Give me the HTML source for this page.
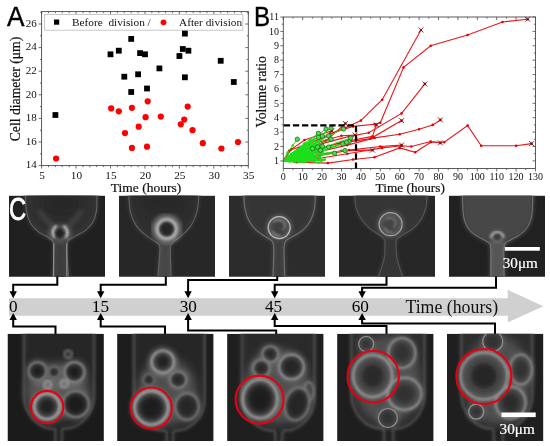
<!DOCTYPE html>
<html><head><meta charset="utf-8"><title>Figure</title>
<style>html,body{margin:0;padding:0;background:#fff}svg{display:block}text{font-family:"Liberation Serif", serif}.sans{font-family:"Liberation Sans", sans-serif}</style>
</head><body>
<svg width="550" height="446" viewBox="0 0 550 446">
<defs>
<filter id="b05" x="-20%" y="-20%" width="140%" height="140%"><feGaussianBlur stdDeviation="0.5"/></filter>
<filter id="b08" x="-20%" y="-20%" width="140%" height="140%"><feGaussianBlur stdDeviation="0.8"/></filter>
<filter id="b1" x="-20%" y="-20%" width="140%" height="140%"><feGaussianBlur stdDeviation="1"/></filter>
<filter id="b2" x="-30%" y="-30%" width="160%" height="160%"><feGaussianBlur stdDeviation="2"/></filter>
<filter id="b4" x="-40%" y="-40%" width="180%" height="180%"><feGaussianBlur stdDeviation="4"/></filter>
<filter id="b7" x="-50%" y="-50%" width="200%" height="200%"><feGaussianBlur stdDeviation="7"/></filter>
<filter id="soft" x="-5%" y="-5%" width="110%" height="110%"><feGaussianBlur stdDeviation="0.35"/></filter>
</defs>
<rect width="550" height="446" fill="#fff"/>
<g id="chartA">
<rect x="41.6" y="11.6" width="206.7" height="154.0" fill="none" stroke="#4a4a4a" stroke-width="0.9"/>
<path d="M41.60 165.60v3.0M41.60 11.60v3.0M48.49 165.60v1.6M48.49 11.60v1.6M55.38 165.60v1.6M55.38 11.60v1.6M62.27 165.60v1.6M62.27 11.60v1.6M69.16 165.60v1.6M69.16 11.60v1.6M76.05 165.60v3.0M76.05 11.60v3.0M82.94 165.60v1.6M82.94 11.60v1.6M89.83 165.60v1.6M89.83 11.60v1.6M96.72 165.60v1.6M96.72 11.60v1.6M103.61 165.60v1.6M103.61 11.60v1.6M110.50 165.60v3.0M110.50 11.60v3.0M117.39 165.60v1.6M117.39 11.60v1.6M124.28 165.60v1.6M124.28 11.60v1.6M131.17 165.60v1.6M131.17 11.60v1.6M138.06 165.60v1.6M138.06 11.60v1.6M144.95 165.60v3.0M144.95 11.60v3.0M151.84 165.60v1.6M151.84 11.60v1.6M158.73 165.60v1.6M158.73 11.60v1.6M165.62 165.60v1.6M165.62 11.60v1.6M172.51 165.60v1.6M172.51 11.60v1.6M179.40 165.60v3.0M179.40 11.60v3.0M186.29 165.60v1.6M186.29 11.60v1.6M193.18 165.60v1.6M193.18 11.60v1.6M200.07 165.60v1.6M200.07 11.60v1.6M206.96 165.60v1.6M206.96 11.60v1.6M213.85 165.60v3.0M213.85 11.60v3.0M220.74 165.60v1.6M220.74 11.60v1.6M227.63 165.60v1.6M227.63 11.60v1.6M234.52 165.60v1.6M234.52 11.60v1.6M241.41 165.60v1.6M241.41 11.60v1.6M248.30 165.60v3.0M248.30 11.60v3.0M41.60 165.60h-3.0M248.30 165.60h-3.0M41.60 153.80h-1.6M248.30 153.80h-1.6M41.60 142.00h-3.0M248.30 142.00h-3.0M41.60 130.20h-1.6M248.30 130.20h-1.6M41.60 118.40h-3.0M248.30 118.40h-3.0M41.60 106.60h-1.6M248.30 106.60h-1.6M41.60 94.80h-3.0M248.30 94.80h-3.0M41.60 83.00h-1.6M248.30 83.00h-1.6M41.60 71.20h-3.0M248.30 71.20h-3.0M41.60 59.40h-1.6M248.30 59.40h-1.6M41.60 47.60h-3.0M248.30 47.60h-3.0M41.60 35.80h-1.6M248.30 35.80h-1.6M41.60 24.00h-3.0M248.30 24.00h-3.0M41.60 12.20h-1.6M248.30 12.20h-1.6" stroke="#4a4a4a" stroke-width="0.8" fill="none"/>
<text x="42.0" y="179.2" font-size="11.3" text-anchor="middle" fill="#111">5</text>
<text x="76.5" y="179.2" font-size="11.3" text-anchor="middle" fill="#111">10</text>
<text x="110.9" y="179.2" font-size="11.3" text-anchor="middle" fill="#111">15</text>
<text x="145.4" y="179.2" font-size="11.3" text-anchor="middle" fill="#111">20</text>
<text x="179.8" y="179.2" font-size="11.3" text-anchor="middle" fill="#111">25</text>
<text x="214.2" y="179.2" font-size="11.3" text-anchor="middle" fill="#111">30</text>
<text x="248.7" y="179.2" font-size="11.3" text-anchor="middle" fill="#111">35</text>
<text x="36.8" y="168.4" font-size="11" text-anchor="end" fill="#111">14</text>
<text x="36.8" y="144.8" font-size="11" text-anchor="end" fill="#111">16</text>
<text x="36.8" y="121.2" font-size="11" text-anchor="end" fill="#111">18</text>
<text x="36.8" y="97.6" font-size="11" text-anchor="end" fill="#111">20</text>
<text x="36.8" y="74.0" font-size="11" text-anchor="end" fill="#111">22</text>
<text x="36.8" y="50.4" font-size="11" text-anchor="end" fill="#111">24</text>
<text x="36.8" y="26.8" font-size="11" text-anchor="end" fill="#111">26</text>
<text x="146" y="191.6" font-size="13.5" text-anchor="middle" fill="#111" stroke="#111" stroke-width="0.2">Time (hours)</text>
<text transform="translate(20.1,89) rotate(-90)" font-size="13.7" text-anchor="middle" fill="#111" stroke="#111" stroke-width="0.2">Cell diameter (μm)</text>
<rect x="44.6" y="14.4" width="198.2" height="15.8" fill="#fff" stroke="#bbb" stroke-width="0.8"/>
<rect x="54" y="19.5" width="5.2" height="5.2" fill="#000"/>
<text x="72" y="26.3" font-size="11.3" fill="#111" style="white-space:pre">Before  division /</text>
<circle cx="163.5" cy="22.3" r="2.9" fill="#f00"/>
<text x="179" y="26.3" font-size="11.3" fill="#111">After division</text>
<rect x="52.5" y="112.1" width="5.8" height="5.8" fill="#000"/>
<rect x="107.6" y="51.4" width="5.8" height="5.8" fill="#000"/>
<rect x="115.9" y="47.8" width="5.8" height="5.8" fill="#000"/>
<rect x="121.4" y="73.8" width="5.8" height="5.8" fill="#000"/>
<rect x="128.3" y="36.0" width="5.8" height="5.8" fill="#000"/>
<rect x="128.3" y="89.1" width="5.8" height="5.8" fill="#000"/>
<rect x="135.2" y="71.4" width="5.8" height="5.8" fill="#000"/>
<rect x="137.2" y="50.2" width="5.8" height="5.8" fill="#000"/>
<rect x="142.1" y="51.4" width="5.8" height="5.8" fill="#000"/>
<rect x="144.1" y="85.6" width="5.8" height="5.8" fill="#000"/>
<rect x="156.5" y="65.5" width="5.8" height="5.8" fill="#000"/>
<rect x="176.5" y="53.1" width="5.8" height="5.8" fill="#000"/>
<rect x="179.9" y="46.1" width="5.8" height="5.8" fill="#000"/>
<rect x="182.0" y="30.7" width="5.8" height="5.8" fill="#000"/>
<rect x="182.0" y="74.4" width="5.8" height="5.8" fill="#000"/>
<rect x="185.5" y="47.8" width="5.8" height="5.8" fill="#000"/>
<rect x="217.8" y="57.9" width="5.8" height="5.8" fill="#000"/>
<rect x="230.9" y="79.1" width="5.8" height="5.8" fill="#000"/>
<circle cx="56.1" cy="158.5" r="3.1" fill="#f00"/>
<circle cx="111.2" cy="108.4" r="3.1" fill="#f00"/>
<circle cx="118.8" cy="111.3" r="3.1" fill="#f00"/>
<circle cx="125.0" cy="133.1" r="3.1" fill="#f00"/>
<circle cx="131.9" cy="107.8" r="3.1" fill="#f00"/>
<circle cx="131.9" cy="147.9" r="3.1" fill="#f00"/>
<circle cx="138.7" cy="126.7" r="3.1" fill="#f00"/>
<circle cx="145.6" cy="117.2" r="3.1" fill="#f00"/>
<circle cx="147.7" cy="101.3" r="3.1" fill="#f00"/>
<circle cx="147.0" cy="146.7" r="3.1" fill="#f00"/>
<circle cx="160.8" cy="116.6" r="3.1" fill="#f00"/>
<circle cx="180.8" cy="124.3" r="3.1" fill="#f00"/>
<circle cx="184.2" cy="119.6" r="3.1" fill="#f00"/>
<circle cx="187.7" cy="106.6" r="3.1" fill="#f00"/>
<circle cx="192.5" cy="130.2" r="3.1" fill="#f00"/>
<circle cx="202.8" cy="143.2" r="3.1" fill="#f00"/>
<circle cx="221.4" cy="148.5" r="3.1" fill="#f00"/>
<circle cx="238.0" cy="142.0" r="3.1" fill="#f00"/>
<text class="sans" transform="translate(7.0,25.9) scale(0.95,1)" font-size="27.6" fill="#000" stroke="#000" stroke-width="0.4">A</text>
</g>
<g id="chartB">
<rect x="283.3" y="17.0" width="252.2" height="151.5" fill="none" stroke="#4a4a4a" stroke-width="0.9"/>
<path d="M283.30 168.50v3.0M283.30 17.00v3.0M293.00 168.50v1.6M293.00 17.00v1.6M302.70 168.50v3.0M302.70 17.00v3.0M312.40 168.50v1.6M312.40 17.00v1.6M322.10 168.50v3.0M322.10 17.00v3.0M331.80 168.50v1.6M331.80 17.00v1.6M341.50 168.50v3.0M341.50 17.00v3.0M351.20 168.50v1.6M351.20 17.00v1.6M360.90 168.50v3.0M360.90 17.00v3.0M370.60 168.50v1.6M370.60 17.00v1.6M380.30 168.50v3.0M380.30 17.00v3.0M390.00 168.50v1.6M390.00 17.00v1.6M399.70 168.50v3.0M399.70 17.00v3.0M409.40 168.50v1.6M409.40 17.00v1.6M419.10 168.50v3.0M419.10 17.00v3.0M428.80 168.50v1.6M428.80 17.00v1.6M438.50 168.50v3.0M438.50 17.00v3.0M448.20 168.50v1.6M448.20 17.00v1.6M457.90 168.50v3.0M457.90 17.00v3.0M467.60 168.50v1.6M467.60 17.00v1.6M477.30 168.50v3.0M477.30 17.00v3.0M487.00 168.50v1.6M487.00 17.00v1.6M496.70 168.50v3.0M496.70 17.00v3.0M506.40 168.50v1.6M506.40 17.00v1.6M516.10 168.50v3.0M516.10 17.00v3.0M525.80 168.50v1.6M525.80 17.00v1.6M535.50 168.50v3.0M535.50 17.00v3.0M283.30 160.90h-3.0M535.50 160.90h-3.0M283.30 153.71h-1.6M535.50 153.71h-1.6M283.30 146.51h-3.0M535.50 146.51h-3.0M283.30 139.31h-1.6M535.50 139.31h-1.6M283.30 132.12h-3.0M535.50 132.12h-3.0M283.30 124.93h-1.6M535.50 124.93h-1.6M283.30 117.73h-3.0M535.50 117.73h-3.0M283.30 110.53h-1.6M535.50 110.53h-1.6M283.30 103.34h-3.0M535.50 103.34h-3.0M283.30 96.14h-1.6M535.50 96.14h-1.6M283.30 88.95h-3.0M535.50 88.95h-3.0M283.30 81.75h-1.6M535.50 81.75h-1.6M283.30 74.56h-3.0M535.50 74.56h-3.0M283.30 67.37h-1.6M535.50 67.37h-1.6M283.30 60.17h-3.0M535.50 60.17h-3.0M283.30 52.98h-1.6M535.50 52.98h-1.6M283.30 45.78h-3.0M535.50 45.78h-3.0M283.30 38.58h-1.6M535.50 38.58h-1.6M283.30 31.39h-3.0M535.50 31.39h-3.0M283.30 24.20h-1.6M535.50 24.20h-1.6M283.30 17.00h-3.0M535.50 17.00h-3.0" stroke="#4a4a4a" stroke-width="0.8" fill="none"/>
<text x="283.3" y="180.3" font-size="10" text-anchor="middle" fill="#111">0</text>
<text x="302.7" y="180.3" font-size="10" text-anchor="middle" fill="#111">10</text>
<text x="322.1" y="180.3" font-size="10" text-anchor="middle" fill="#111">20</text>
<text x="341.5" y="180.3" font-size="10" text-anchor="middle" fill="#111">30</text>
<text x="360.9" y="180.3" font-size="10" text-anchor="middle" fill="#111">40</text>
<text x="380.3" y="180.3" font-size="10" text-anchor="middle" fill="#111">50</text>
<text x="399.7" y="180.3" font-size="10" text-anchor="middle" fill="#111">60</text>
<text x="419.1" y="180.3" font-size="10" text-anchor="middle" fill="#111">70</text>
<text x="438.5" y="180.3" font-size="10" text-anchor="middle" fill="#111">80</text>
<text x="457.9" y="180.3" font-size="10" text-anchor="middle" fill="#111">90</text>
<text x="477.3" y="180.3" font-size="10" text-anchor="middle" fill="#111">100</text>
<text x="496.7" y="180.3" font-size="10" text-anchor="middle" fill="#111">110</text>
<text x="516.1" y="180.3" font-size="10" text-anchor="middle" fill="#111">120</text>
<text x="535.5" y="180.3" font-size="10" text-anchor="middle" fill="#111">130</text>
<text x="279" y="164.1" font-size="10" text-anchor="end" fill="#111">1</text>
<text x="279" y="149.7" font-size="10" text-anchor="end" fill="#111">2</text>
<text x="279" y="135.3" font-size="10" text-anchor="end" fill="#111">3</text>
<text x="279" y="120.9" font-size="10" text-anchor="end" fill="#111">4</text>
<text x="279" y="106.5" font-size="10" text-anchor="end" fill="#111">5</text>
<text x="279" y="92.2" font-size="10" text-anchor="end" fill="#111">6</text>
<text x="279" y="77.8" font-size="10" text-anchor="end" fill="#111">7</text>
<text x="279" y="63.4" font-size="10" text-anchor="end" fill="#111">8</text>
<text x="279" y="49.0" font-size="10" text-anchor="end" fill="#111">9</text>
<text x="279" y="34.6" font-size="10" text-anchor="end" fill="#111">10</text>
<text x="279" y="20.2" font-size="10" text-anchor="end" fill="#111">11</text>
<text x="410.2" y="191.5" font-size="13.3" text-anchor="middle" fill="#111" stroke="#111" stroke-width="0.2">Time (hours)</text>
<text transform="translate(266.4,91.8) rotate(-90)" font-size="13.8" text-anchor="middle" fill="#111" stroke="#111" stroke-width="0.2">Volume ratio</text>
<polyline points="283.3,160.9 298.8,147.9 322.1,137.9 345.4,127.8 360.9,120.6 382.2,99.7 421.0,30.0" fill="none" stroke="#e8181a" stroke-width="1.1"/>
<polyline points="283.3,160.9 302.7,150.8 329.9,133.6 353.1,126.4 374.5,124.2 380.3,122.8 403.6,67.4 430.7,45.8 467.6,35.0 502.5,22.0 527.7,19.2" fill="none" stroke="#e8181a" stroke-width="1.1"/>
<polyline points="283.3,160.9 294.9,153.7 322.1,143.6 349.3,136.4 368.7,132.8 401.6,113.4 424.9,83.9" fill="none" stroke="#e8181a" stroke-width="1.1"/>
<polyline points="283.3,160.9 293.0,156.6 326.0,140.8 345.4,123.5" fill="none" stroke="#e8181a" stroke-width="1.1"/>
<polyline points="283.3,160.9 306.6,152.3 341.5,142.2 372.5,136.4 376.4,124.9" fill="none" stroke="#e8181a" stroke-width="1.1"/>
<polyline points="283.3,160.9 300.8,155.1 337.6,143.6 370.6,138.6 401.6,120.6" fill="none" stroke="#e8181a" stroke-width="1.1"/>
<polyline points="283.3,160.9 310.5,153.7 347.3,145.1 374.5,137.9 399.7,134.3 419.1,129.2 432.7,124.9 440.4,119.9" fill="none" stroke="#e8181a" stroke-width="1.1"/>
<polyline points="283.3,160.9 302.7,157.3 341.5,150.8 372.5,150.1" fill="none" stroke="#e8181a" stroke-width="1.1"/>
<polyline points="283.3,160.9 306.6,158.0 349.3,150.1 380.3,146.5 401.6,145.1" fill="none" stroke="#e8181a" stroke-width="1.1"/>
<polyline points="283.3,160.9 312.4,159.5 347.3,153.7 382.2,147.9 401.6,145.8 411.3,146.5 430.7,141.5 440.4,142.9" fill="none" stroke="#e8181a" stroke-width="1.1"/>
<polyline points="283.3,160.9 296.9,162.3 327.9,163.1 353.1,159.5 374.5,157.3 399.7,147.9 415.2,152.3 430.7,142.2 444.3,142.2 467.6,125.6 481.2,145.8 516.1,145.8 531.6,143.6" fill="none" stroke="#e8181a" stroke-width="1.1"/>
<polyline points="283.3,160.9 289.1,150.8 304.6,140.0 331.8,130.7" fill="none" stroke="#e8181a" stroke-width="1.1"/>
<polyline points="283.3,160.9 291.1,149.4 318.2,142.2 341.5,135.7 355.1,135.0" fill="none" stroke="#e8181a" stroke-width="1.1"/>
<path d="M298.8 147.9h0M322.1 137.9h0M345.4 127.8h0M360.9 120.6h0M382.2 99.7h0M421.0 30.0h0M302.7 150.8h0M329.9 133.6h0M353.1 126.4h0M374.5 124.2h0M380.3 122.8h0M403.6 67.4h0M430.7 45.8h0M467.6 35.0h0M502.5 22.0h0M527.7 19.2h0M294.9 153.7h0M322.1 143.6h0M349.3 136.4h0M368.7 132.8h0M401.6 113.4h0M424.9 83.9h0M293.0 156.6h0M326.0 140.8h0M345.4 123.5h0M306.6 152.3h0M341.5 142.2h0M372.5 136.4h0M376.4 124.9h0M300.8 155.1h0M337.6 143.6h0M370.6 138.6h0M401.6 120.6h0M310.5 153.7h0M347.3 145.1h0M374.5 137.9h0M399.7 134.3h0M419.1 129.2h0M432.7 124.9h0M440.4 119.9h0M302.7 157.3h0M341.5 150.8h0M372.5 150.1h0M306.6 158.0h0M349.3 150.1h0M380.3 146.5h0M401.6 145.1h0M312.4 159.5h0M347.3 153.7h0M382.2 147.9h0M401.6 145.8h0M411.3 146.5h0M430.7 141.5h0M440.4 142.9h0M296.9 162.3h0M327.9 163.1h0M353.1 159.5h0M374.5 157.3h0M399.7 147.9h0M415.2 152.3h0M430.7 142.2h0M444.3 142.2h0M467.6 125.6h0M481.2 145.8h0M516.1 145.8h0M531.6 143.6h0M289.1 150.8h0M304.6 140.0h0M331.8 130.7h0M291.1 149.4h0M318.2 142.2h0M341.5 135.7h0M355.1 135.0h0" stroke="#e60000" stroke-width="2.6" stroke-linecap="round" fill="none"/>
<path d="M418.5 27.5l5 5m0 -5l-5 5M525.2 16.7l5 5m0 -5l-5 5M422.4 81.4l5 5m0 -5l-5 5M342.9 121.0l5 5m0 -5l-5 5M373.9 122.4l5 5m0 -5l-5 5M399.1 118.1l5 5m0 -5l-5 5M437.9 117.4l5 5m0 -5l-5 5M370.0 147.6l5 5m0 -5l-5 5M399.1 142.6l5 5m0 -5l-5 5M437.9 140.4l5 5m0 -5l-5 5M529.1 141.1l5 5m0 -5l-5 5M329.3 128.2l5 5m0 -5l-5 5M352.6 132.5l5 5m0 -5l-5 5" stroke="#5a1010" stroke-width="0.8" fill="none"/>
<path d="M284.1 160.6L287.5 152.6L292.7 145.5L297.3 139.2M284.1 160.6L294.5 151.8L304.0 143.7L318.4 133.3M284.1 160.6L293.0 153.3L304.1 144.4L318.4 137.3M284.1 160.6L295.4 154.7L306.7 144.2L322.4 136.1M284.1 160.6L297.1 153.1L310.3 140.6L326.0 129.0M284.1 160.6L299.6 148.9L314.3 139.6L331.0 128.2M284.1 160.6L296.4 151.5L311.1 146.6L328.6 135.8M284.1 160.6L297.2 154.5L313.6 146.8L331.0 139.2M284.1 160.6L302.1 149.2L319.6 139.7L343.5 129.0M284.1 160.6L304.6 153.5L324.8 147.0L350.6 138.0M284.1 160.6L303.4 154.0L325.2 149.7L349.0 141.6M284.1 160.6L302.1 155.5L323.0 151.0L346.7 142.4M284.1 160.6L302.4 154.7L321.9 148.6L342.7 143.9M284.1 160.6L297.2 157.7L310.6 152.2L328.6 147.1M284.1 160.6L294.2 157.1L308.6 152.1L322.4 146.3M284.1 160.6L295.3 155.7L305.5 152.6L317.6 147.1M284.1 160.6L292.9 156.8L302.8 155.1L312.6 148.6M284.1 160.6L294.9 158.2L305.4 155.0L320.5 150.2M284.1 160.6L302.8 159.7L322.9 153.4L345.1 150.5M284.1 160.6L298.9 159.2L314.0 155.9L334.6 153.3M284.1 160.6L289.0 161.1L296.2 158.7M284.1 160.6L299.8 156.4L320.9 153.0M284.1 160.6L298.0 151.5L315.8 142.4M284.1 160.6L288.5 155.8L294.7 152.1M284.1 160.6L290.5 157.3L300.2 154.2M284.1 160.6L295.6 152.4L309.8 139.9M284.1 160.6L297.7 152.7L312.4 140.4M284.1 160.6L296.7 158.6L313.4 158.4M284.1 160.6L287.8 158.4L293.8 157.9M284.1 160.6L301.4 159.7L321.4 160.9M284.1 160.6L290.5 161.1L296.8 157.7M284.1 160.6L289.4 159.6L297.1 159.1M284.1 160.6L302.3 159.8L324.6 159.8M284.1 160.6L302.3 155.1L322.5 146.3M284.1 160.6L299.6 160.4L318.1 156.8M284.1 160.6L300.8 152.0L320.2 140.0M284.1 160.6L295.5 157.5L309.0 156.6M284.1 160.6L299.2 158.3L316.5 157.7M284.1 160.6L291.1 153.9L300.3 146.8M284.1 160.6L300.8 153.6L319.9 146.3M284.1 160.6L298.8 161.3L315.4 159.9M284.1 160.6L299.5 160.3L319.9 157.1M284.1 160.6L302.1 154.9L322.4 149.4M284.1 160.6L296.5 152.6L314.2 140.7M284.1 160.6L295.3 156.3L311.5 155.4M284.1 160.6L300.9 156.0L322.3 146.3M284.1 160.6L291.9 159.7L302.1 157.7M284.1 160.6L301.3 159.5L323.2 159.9M284.1 160.6L301.2 156.1L322.1 148.7M284.1 160.6L289.6 159.8L297.9 156.4M284.1 160.6L294.7 155.0L308.5 148.9M284.1 160.6L296.0 159.3L312.1 159.6M284.1 160.6L299.3 154.9L316.2 148.5M284.1 160.6L297.6 156.1L314.2 151.9M284.1 160.6L300.3 152.1L318.1 145.2M284.1 160.6L288.5 157.1L294.7 152.4M284.1 160.6L298.7 161.9L314.5 161.0M284.1 160.6L290.5 159.7L296.0 156.4M284.1 160.6L296.0 159.0L307.7 154.2M284.1 160.6L292.1 157.0L303.6 152.3M284.1 160.6L293.1 156.3L306.4 152.4M284.1 160.6L303.4 162.2L324.8 159.5M284.1 160.6L299.3 159.4L318.6 162.5M284.1 160.6L290.1 158.0L299.2 152.2M284.1 160.6L289.4 160.2L294.1 161.9M284.1 160.6L297.9 155.4L315.7 147.6M284.1 160.6L292.9 159.6L303.0 153.6M284.1 160.6L290.5 156.9L299.1 153.9M284.1 160.6L293.1 158.3L302.8 155.9M284.1 160.6L287.8 158.0L294.0 158.8M284.1 160.6L296.0 158.1L309.3 158.0M284.1 160.6L299.5 155.5L319.2 151.0M284.1 160.6L300.6 157.7L319.6 152.6M284.1 160.6L289.2 161.5L296.9 159.4M284.1 160.6L301.4 160.9L320.4 158.9M284.1 160.6L294.1 158.6L307.4 158.2M284.1 160.6L293.2 154.8L305.1 143.5M284.1 160.6L293.8 161.0L305.1 161.5M284.1 160.6L291.2 160.5L300.9 159.5M284.1 160.6L291.7 159.4L301.0 158.2M284.1 160.6L299.1 152.1L318.9 141.9M284.1 160.6L295.2 155.5L311.7 147.1M284.1 160.6L297.6 153.1L315.7 145.0M284.1 160.6L298.3 153.6L315.6 142.7" stroke="#19e019" stroke-width="1.0" fill="none" stroke-linejoin="round"/>
<path d="M287.5 152.6h0M292.7 145.5h0M294.5 151.8h0M304.0 143.7h0M293.0 153.3h0M304.1 144.4h0M295.4 154.7h0M306.7 144.2h0M297.1 153.1h0M310.3 140.6h0M299.6 148.9h0M314.3 139.6h0M296.4 151.5h0M311.1 146.6h0M297.2 154.5h0M313.6 146.8h0M302.1 149.2h0M319.6 139.7h0M304.6 153.5h0M324.8 147.0h0M303.4 154.0h0M325.2 149.7h0M302.1 155.5h0M323.0 151.0h0M302.4 154.7h0M321.9 148.6h0M297.2 157.7h0M310.6 152.2h0M294.2 157.1h0M308.6 152.1h0M295.3 155.7h0M305.5 152.6h0M292.9 156.8h0M302.8 155.1h0M294.9 158.2h0M305.4 155.0h0M302.8 159.7h0M322.9 153.4h0M298.9 159.2h0M314.0 155.9h0M289.0 161.1h0M296.2 158.7h0M299.8 156.4h0M320.9 153.0h0M298.0 151.5h0M315.8 142.4h0M288.5 155.8h0M294.7 152.1h0M290.5 157.3h0M300.2 154.2h0M295.6 152.4h0M309.8 139.9h0M297.7 152.7h0M312.4 140.4h0M296.7 158.6h0M313.4 158.4h0M287.8 158.4h0M293.8 157.9h0M301.4 159.7h0M321.4 160.9h0M290.5 161.1h0M296.8 157.7h0M289.4 159.6h0M297.1 159.1h0M302.3 159.8h0M324.6 159.8h0M302.3 155.1h0M322.5 146.3h0M299.6 160.4h0M318.1 156.8h0M300.8 152.0h0M320.2 140.0h0M295.5 157.5h0M309.0 156.6h0M299.2 158.3h0M316.5 157.7h0M291.1 153.9h0M300.3 146.8h0M300.8 153.6h0M319.9 146.3h0M298.8 161.3h0M315.4 159.9h0M299.5 160.3h0M319.9 157.1h0M302.1 154.9h0M322.4 149.4h0M296.5 152.6h0M314.2 140.7h0M295.3 156.3h0M311.5 155.4h0M300.9 156.0h0M322.3 146.3h0M291.9 159.7h0M302.1 157.7h0M301.3 159.5h0M323.2 159.9h0M301.2 156.1h0M322.1 148.7h0M289.6 159.8h0M297.9 156.4h0M294.7 155.0h0M308.5 148.9h0M296.0 159.3h0M312.1 159.6h0M299.3 154.9h0M316.2 148.5h0M297.6 156.1h0M314.2 151.9h0M300.3 152.1h0M318.1 145.2h0M288.5 157.1h0M294.7 152.4h0M298.7 161.9h0M314.5 161.0h0M290.5 159.7h0M296.0 156.4h0M296.0 159.0h0M307.7 154.2h0M292.1 157.0h0M303.6 152.3h0M293.1 156.3h0M306.4 152.4h0M303.4 162.2h0M324.8 159.5h0M299.3 159.4h0M318.6 162.5h0M290.1 158.0h0M299.2 152.2h0M289.4 160.2h0M294.1 161.9h0M297.9 155.4h0M315.7 147.6h0M292.9 159.6h0M303.0 153.6h0M290.5 156.9h0M299.1 153.9h0M293.1 158.3h0M302.8 155.9h0M287.8 158.0h0M294.0 158.8h0M296.0 158.1h0M309.3 158.0h0M299.5 155.5h0M319.2 151.0h0M300.6 157.7h0M319.6 152.6h0M289.2 161.5h0M296.9 159.4h0M301.4 160.9h0M320.4 158.9h0M294.1 158.6h0M307.4 158.2h0M293.2 154.8h0M305.1 143.5h0M293.8 161.0h0M305.1 161.5h0M291.2 160.5h0M300.9 159.5h0M291.7 159.4h0M301.0 158.2h0M299.1 152.1h0M318.9 141.9h0M295.2 155.5h0M311.7 147.1h0M297.6 153.1h0M315.7 145.0h0M298.3 153.6h0M315.6 142.7h0" stroke="#19e019" stroke-width="2.6" stroke-linecap="round" fill="none"/>
<circle cx="297.3" cy="139.2" r="2.2" fill="#4ae04a" stroke="#1f5a1f" stroke-width="0.7"/>
<circle cx="318.4" cy="133.3" r="2.2" fill="#4ae04a" stroke="#1f5a1f" stroke-width="0.7"/>
<circle cx="318.4" cy="137.3" r="2.2" fill="#4ae04a" stroke="#1f5a1f" stroke-width="0.7"/>
<circle cx="322.4" cy="136.1" r="2.2" fill="#4ae04a" stroke="#1f5a1f" stroke-width="0.7"/>
<circle cx="326.0" cy="129.0" r="2.2" fill="#4ae04a" stroke="#1f5a1f" stroke-width="0.7"/>
<circle cx="331.0" cy="128.2" r="2.2" fill="#4ae04a" stroke="#1f5a1f" stroke-width="0.7"/>
<circle cx="328.6" cy="135.8" r="2.2" fill="#4ae04a" stroke="#1f5a1f" stroke-width="0.7"/>
<circle cx="331.0" cy="139.2" r="2.2" fill="#4ae04a" stroke="#1f5a1f" stroke-width="0.7"/>
<circle cx="343.5" cy="129.0" r="2.2" fill="#4ae04a" stroke="#1f5a1f" stroke-width="0.7"/>
<circle cx="350.6" cy="138.0" r="2.2" fill="#4ae04a" stroke="#1f5a1f" stroke-width="0.7"/>
<circle cx="349.0" cy="141.6" r="2.2" fill="#4ae04a" stroke="#1f5a1f" stroke-width="0.7"/>
<circle cx="346.7" cy="142.4" r="2.2" fill="#4ae04a" stroke="#1f5a1f" stroke-width="0.7"/>
<circle cx="342.7" cy="143.9" r="2.2" fill="#4ae04a" stroke="#1f5a1f" stroke-width="0.7"/>
<circle cx="328.6" cy="147.1" r="2.2" fill="#4ae04a" stroke="#1f5a1f" stroke-width="0.7"/>
<circle cx="322.4" cy="146.3" r="2.2" fill="#4ae04a" stroke="#1f5a1f" stroke-width="0.7"/>
<circle cx="317.6" cy="147.1" r="2.2" fill="#4ae04a" stroke="#1f5a1f" stroke-width="0.7"/>
<circle cx="312.6" cy="148.6" r="2.2" fill="#4ae04a" stroke="#1f5a1f" stroke-width="0.7"/>
<circle cx="320.5" cy="150.2" r="2.2" fill="#4ae04a" stroke="#1f5a1f" stroke-width="0.7"/>
<circle cx="345.1" cy="150.5" r="2.2" fill="#4ae04a" stroke="#1f5a1f" stroke-width="0.7"/>
<circle cx="334.6" cy="153.3" r="2.2" fill="#4ae04a" stroke="#1f5a1f" stroke-width="0.7"/>
<path d="M283.8 125.4H356V168.5" fill="none" stroke="#000" stroke-width="2.2" stroke-dasharray="6.3 2.8"/>
<text class="sans" transform="translate(254.0,25.8) scale(0.9,1)" font-size="26.8" fill="#000" stroke="#000" stroke-width="0.4">B</text>
</g>
<svg x="9.0" y="195.6" width="96" height="81.2" viewBox="0 0 96 81.2" overflow="hidden">
<rect width="96" height="82" fill="#202020"/>
<clipPath id="tc1"><path d="M16.1 -8.0C16.1 -6.7 16.1 -4.0 16.4 0.0C16.6 4.0 16.7 11.4 17.6 16.0C18.5 20.6 19.6 24.3 21.6 27.7C23.6 31.1 26.7 34.0 29.6 36.3C32.5 38.6 36.3 39.9 38.8 41.5C41.2 43.1 43.3 44.0 44.3 45.8C45.3 47.5 45.0 48.6 45.0 52.0C45.0 55.4 44.7 61.3 44.6 66.0C44.5 70.7 44.3 76.3 44.2 80.0C44.1 83.7 44.0 86.7 44.0 88.0L60.0 88.0C59.9 86.7 59.7 83.7 59.4 80.0C59.1 76.3 58.7 70.7 58.4 66.0C58.1 61.3 57.6 55.5 57.7 52.0C57.8 48.5 57.6 46.9 59.0 45.0C60.4 43.1 63.1 42.4 65.8 40.8C68.5 39.2 72.5 37.7 75.4 35.5C78.3 33.3 81.2 30.9 83.2 27.7C85.2 24.4 86.5 20.6 87.3 16.0C88.1 11.4 87.8 4.0 88.0 0.0C88.2 -4.0 88.2 -6.7 88.3 -8.0Z"/></clipPath>
<path d="M16.1 -8.0C16.1 -6.7 16.1 -4.0 16.4 0.0C16.6 4.0 16.7 11.4 17.6 16.0C18.5 20.6 19.6 24.3 21.6 27.7C23.6 31.1 26.7 34.0 29.6 36.3C32.5 38.6 36.3 39.9 38.8 41.5C41.2 43.1 43.3 44.0 44.3 45.8C45.3 47.5 45.0 48.6 45.0 52.0C45.0 55.4 44.7 61.3 44.6 66.0C44.5 70.7 44.3 76.3 44.2 80.0C44.1 83.7 44.0 86.7 44.0 88.0L60.0 88.0C59.9 86.7 59.7 83.7 59.4 80.0C59.1 76.3 58.7 70.7 58.4 66.0C58.1 61.3 57.6 55.5 57.7 52.0C57.8 48.5 57.6 46.9 59.0 45.0C60.4 43.1 63.1 42.4 65.8 40.8C68.5 39.2 72.5 37.7 75.4 35.5C78.3 33.3 81.2 30.9 83.2 27.7C85.2 24.4 86.5 20.6 87.3 16.0C88.1 11.4 87.8 4.0 88.0 0.0C88.2 -4.0 88.2 -6.7 88.3 -8.0Z" fill="#323232" filter="url(#b2)"/>
<g clip-path="url(#tc1)"><ellipse cx="52" cy="8" rx="24" ry="18" fill="#222" opacity="0.6" filter="url(#b7)"/><path d="M47 33Q36 24 30 14M56 33Q67 24 73 14" stroke="#666" stroke-width="5" fill="none" opacity="0.35" filter="url(#b2)"/></g>
<g clip-path="url(#tc1)"><rect x="43" y="47" width="17" height="40" fill="#3c3c3c" filter="url(#b1)"/></g>
<path d="M16.1 -8.0C16.1 -6.7 16.1 -4.0 16.4 0.0C16.6 4.0 16.7 11.4 17.6 16.0C18.5 20.6 19.6 24.3 21.6 27.7C23.6 31.1 26.7 34.0 29.6 36.3C32.5 38.6 36.3 39.9 38.8 41.5C41.2 43.1 43.3 44.0 44.3 45.8C45.3 47.5 45.0 48.6 45.0 52.0C45.0 55.4 44.7 61.3 44.6 66.0C44.5 70.7 44.3 76.3 44.2 80.0C44.1 83.7 44.0 86.7 44.0 88.0" fill="none" stroke="#707070" stroke-width="4" opacity="0.20" filter="url(#b2)"/>
<path d="M16.1 -8.0C16.1 -6.7 16.1 -4.0 16.4 0.0C16.6 4.0 16.7 11.4 17.6 16.0C18.5 20.6 19.6 24.3 21.6 27.7C23.6 31.1 26.7 34.0 29.6 36.3C32.5 38.6 36.3 39.9 38.8 41.5C41.2 43.1 43.3 44.0 44.3 45.8C45.3 47.5 45.0 48.6 45.0 52.0C45.0 55.4 44.7 61.3 44.6 66.0C44.5 70.7 44.3 76.3 44.2 80.0C44.1 83.7 44.0 86.7 44.0 88.0" fill="none" stroke="#707070" stroke-width="1.1" opacity="0.80" filter="url(#b05)"/>
<path d="M88.3 -8.0C88.2 -6.7 88.2 -4.0 88.0 0.0C87.8 4.0 88.1 11.4 87.3 16.0C86.5 20.6 85.2 24.4 83.2 27.7C81.2 30.9 78.3 33.3 75.4 35.5C72.5 37.7 68.5 39.2 65.8 40.8C63.1 42.4 60.4 43.1 59.0 45.0C57.6 46.9 57.8 48.5 57.7 52.0C57.6 55.5 58.1 61.3 58.4 66.0C58.7 70.7 59.1 76.3 59.4 80.0C59.7 83.7 59.9 86.7 60.0 88.0" fill="none" stroke="#707070" stroke-width="4" opacity="0.20" filter="url(#b2)"/>
<path d="M88.3 -8.0C88.2 -6.7 88.2 -4.0 88.0 0.0C87.8 4.0 88.1 11.4 87.3 16.0C86.5 20.6 85.2 24.4 83.2 27.7C81.2 30.9 78.3 33.3 75.4 35.5C72.5 37.7 68.5 39.2 65.8 40.8C63.1 42.4 60.4 43.1 59.0 45.0C57.6 46.9 57.8 48.5 57.7 52.0C57.6 55.5 58.1 61.3 58.4 66.0C58.7 70.7 59.1 76.3 59.4 80.0C59.7 83.7 59.9 86.7 60.0 88.0" fill="none" stroke="#707070" stroke-width="1.1" opacity="0.80" filter="url(#b05)"/>
<ellipse cx="51" cy="38" rx="12" ry="9" fill="#808080" opacity="0.5" filter="url(#b2)"/><path d="M44.6 48V82M57.8 48V82" stroke="#a0a0a0" stroke-width="1.2" opacity="0.75" filter="url(#b05)"/><path d="M47.5 30q-6 4.5 -2 12M54.5 30q6 4.5 2.5 12" fill="none" stroke="#c8c8c8" stroke-width="2.2" filter="url(#b08)"/><path d="M50.8 32.5Q53 34 55.3 37.5Q54 41.5 50.6 42.3Q47 41.5 46.6 38Q48 34.5 50.8 32.5Z" fill="#202020" stroke="#202020" stroke-width="1" stroke-linejoin="round" filter="url(#b08)"/>
</svg>
<svg x="119.0" y="195.6" width="96" height="81.2" viewBox="0 0 96 81.2" overflow="hidden">
<rect width="96" height="82" fill="#272727"/>
<clipPath id="tc2"><path d="M9.6 -8.0C9.7 -6.7 9.6 -4.0 9.9 0.0C10.2 4.0 10.3 11.2 11.4 16.0C12.5 20.8 14.1 25.0 16.4 28.8C18.7 32.6 22.3 35.9 25.4 38.6C28.5 41.4 32.7 43.5 35.2 45.3C37.7 47.1 39.3 48.0 40.2 49.6C41.1 51.2 40.8 52.5 40.8 55.2C40.8 57.9 40.3 61.9 40.0 66.0C39.7 70.1 39.3 76.3 39.0 80.0C38.7 83.7 38.5 86.7 38.4 88.0L52.1 88.0C52.1 86.7 52.1 83.0 52.0 80.0C51.9 77.0 51.9 73.3 51.8 70.0C51.7 66.7 51.5 63.1 51.5 60.0C51.5 56.9 51.2 53.8 51.6 51.6C52.0 49.4 51.9 48.8 53.8 46.8C55.7 44.8 59.7 42.7 62.8 39.8C65.9 36.9 69.7 33.6 72.2 29.6C74.7 25.6 76.7 20.9 78.0 16.0C79.3 11.1 79.5 4.0 79.8 0.0C80.1 -4.0 80.0 -6.7 80.1 -8.0Z"/></clipPath>
<path d="M9.6 -8.0C9.7 -6.7 9.6 -4.0 9.9 0.0C10.2 4.0 10.3 11.2 11.4 16.0C12.5 20.8 14.1 25.0 16.4 28.8C18.7 32.6 22.3 35.9 25.4 38.6C28.5 41.4 32.7 43.5 35.2 45.3C37.7 47.1 39.3 48.0 40.2 49.6C41.1 51.2 40.8 52.5 40.8 55.2C40.8 57.9 40.3 61.9 40.0 66.0C39.7 70.1 39.3 76.3 39.0 80.0C38.7 83.7 38.5 86.7 38.4 88.0L52.1 88.0C52.1 86.7 52.1 83.0 52.0 80.0C51.9 77.0 51.9 73.3 51.8 70.0C51.7 66.7 51.5 63.1 51.5 60.0C51.5 56.9 51.2 53.8 51.6 51.6C52.0 49.4 51.9 48.8 53.8 46.8C55.7 44.8 59.7 42.7 62.8 39.8C65.9 36.9 69.7 33.6 72.2 29.6C74.7 25.6 76.7 20.9 78.0 16.0C79.3 11.1 79.5 4.0 79.8 0.0C80.1 -4.0 80.0 -6.7 80.1 -8.0Z" fill="#2e2e2e" filter="url(#b2)"/>
<g clip-path="url(#tc2)"><ellipse cx="46" cy="6" rx="24" ry="14" fill="#262626" opacity="0.6" filter="url(#b4)"/></g>
<g clip-path="url(#tc2)"><rect x="37" y="47" width="16" height="40" fill="#464646" filter="url(#b1)"/></g>
<path d="M9.6 -8.0C9.7 -6.7 9.6 -4.0 9.9 0.0C10.2 4.0 10.3 11.2 11.4 16.0C12.5 20.8 14.1 25.0 16.4 28.8C18.7 32.6 22.3 35.9 25.4 38.6C28.5 41.4 32.7 43.5 35.2 45.3C37.7 47.1 39.3 48.0 40.2 49.6C41.1 51.2 40.8 52.5 40.8 55.2C40.8 57.9 40.3 61.9 40.0 66.0C39.7 70.1 39.3 76.3 39.0 80.0C38.7 83.7 38.5 86.7 38.4 88.0" fill="none" stroke="#707070" stroke-width="4" opacity="0.19" filter="url(#b2)"/>
<path d="M9.6 -8.0C9.7 -6.7 9.6 -4.0 9.9 0.0C10.2 4.0 10.3 11.2 11.4 16.0C12.5 20.8 14.1 25.0 16.4 28.8C18.7 32.6 22.3 35.9 25.4 38.6C28.5 41.4 32.7 43.5 35.2 45.3C37.7 47.1 39.3 48.0 40.2 49.6C41.1 51.2 40.8 52.5 40.8 55.2C40.8 57.9 40.3 61.9 40.0 66.0C39.7 70.1 39.3 76.3 39.0 80.0C38.7 83.7 38.5 86.7 38.4 88.0" fill="none" stroke="#707070" stroke-width="1.1" opacity="0.75" filter="url(#b05)"/>
<path d="M80.1 -8.0C80.0 -6.7 80.1 -4.0 79.8 0.0C79.5 4.0 79.3 11.1 78.0 16.0C76.7 20.9 74.7 25.6 72.2 29.6C69.7 33.6 65.9 36.9 62.8 39.8C59.7 42.7 55.7 44.8 53.8 46.8C51.9 48.8 52.0 49.4 51.6 51.6C51.2 53.8 51.5 56.9 51.5 60.0C51.5 63.1 51.7 66.7 51.8 70.0C51.9 73.3 51.9 77.0 52.0 80.0C52.1 83.0 52.1 86.7 52.1 88.0" fill="none" stroke="#707070" stroke-width="4" opacity="0.19" filter="url(#b2)"/>
<path d="M80.1 -8.0C80.0 -6.7 80.1 -4.0 79.8 0.0C79.5 4.0 79.3 11.1 78.0 16.0C76.7 20.9 74.7 25.6 72.2 29.6C69.7 33.6 65.9 36.9 62.8 39.8C59.7 42.7 55.7 44.8 53.8 46.8C51.9 48.8 52.0 49.4 51.6 51.6C51.2 53.8 51.5 56.9 51.5 60.0C51.5 63.1 51.7 66.7 51.8 70.0C51.9 73.3 51.9 77.0 52.0 80.0C52.1 83.0 52.1 86.7 52.1 88.0" fill="none" stroke="#707070" stroke-width="1.1" opacity="0.75" filter="url(#b05)"/>
<circle cx="47.7" cy="33.5" r="14" fill="#707070" opacity="0.5" filter="url(#b2)"/><ellipse cx="47.7" cy="33.5" rx="9.6" ry="9.6" fill="#1f1f1f" filter="url(#b1)"/><ellipse cx="47.7" cy="33.5" rx="9.6" ry="9.6" fill="none" stroke="#b0b0b0" stroke-width="11.2" opacity="0.35" filter="url(#b2)"/><ellipse cx="47.7" cy="33.5" rx="9.6" ry="9.6" fill="none" stroke="#b0b0b0" stroke-width="3.2" filter="url(#b1)"/><circle cx="47.7" cy="33.5" r="6.2" fill="#262626" filter="url(#b1)"/>
</svg>
<svg x="229.0" y="195.6" width="96" height="81.2" viewBox="0 0 96 81.2" overflow="hidden">
<rect width="96" height="82" fill="#2c2c2c"/>
<clipPath id="tc3"><path d="M14.6 -8.0C14.7 -6.7 14.7 -3.4 14.9 0.0C15.1 3.4 15.1 8.4 15.9 12.5C16.7 16.6 17.8 20.8 19.6 24.4C21.4 28.0 23.9 31.2 26.7 34.0C29.5 36.8 33.5 39.1 36.2 41.0C38.9 42.9 41.6 43.7 43.0 45.4C44.4 47.1 44.5 47.6 44.7 51.0C45.0 54.4 44.6 61.2 44.5 66.0C44.4 70.8 44.1 76.3 44.0 80.0C43.9 83.7 43.8 86.7 43.7 88.0L56.1 88.0C56.0 86.7 55.9 83.7 55.8 80.0C55.7 76.3 55.4 70.8 55.3 66.0C55.2 61.2 54.9 54.5 55.2 51.0C55.5 47.5 55.6 46.6 57.3 44.8C59.0 43.0 62.3 42.0 65.2 40.2C68.1 38.4 72.0 36.4 74.8 33.8C77.6 31.2 80.0 27.9 81.8 24.4C83.6 20.8 84.8 16.6 85.5 12.5C86.2 8.4 86.1 3.4 86.3 0.0C86.5 -3.4 86.5 -6.7 86.6 -8.0Z"/></clipPath>
<path d="M14.6 -8.0C14.7 -6.7 14.7 -3.4 14.9 0.0C15.1 3.4 15.1 8.4 15.9 12.5C16.7 16.6 17.8 20.8 19.6 24.4C21.4 28.0 23.9 31.2 26.7 34.0C29.5 36.8 33.5 39.1 36.2 41.0C38.9 42.9 41.6 43.7 43.0 45.4C44.4 47.1 44.5 47.6 44.7 51.0C45.0 54.4 44.6 61.2 44.5 66.0C44.4 70.8 44.1 76.3 44.0 80.0C43.9 83.7 43.8 86.7 43.7 88.0L56.1 88.0C56.0 86.7 55.9 83.7 55.8 80.0C55.7 76.3 55.4 70.8 55.3 66.0C55.2 61.2 54.9 54.5 55.2 51.0C55.5 47.5 55.6 46.6 57.3 44.8C59.0 43.0 62.3 42.0 65.2 40.2C68.1 38.4 72.0 36.4 74.8 33.8C77.6 31.2 80.0 27.9 81.8 24.4C83.6 20.8 84.8 16.6 85.5 12.5C86.2 8.4 86.1 3.4 86.3 0.0C86.5 -3.4 86.5 -6.7 86.6 -8.0Z" fill="#363636" filter="url(#b2)"/>
<g clip-path="url(#tc3)"><rect x="41" y="47" width="18" height="40" fill="#3c3c3c" filter="url(#b1)"/></g>
<path d="M14.6 -8.0C14.7 -6.7 14.7 -3.4 14.9 0.0C15.1 3.4 15.1 8.4 15.9 12.5C16.7 16.6 17.8 20.8 19.6 24.4C21.4 28.0 23.9 31.2 26.7 34.0C29.5 36.8 33.5 39.1 36.2 41.0C38.9 42.9 41.6 43.7 43.0 45.4C44.4 47.1 44.5 47.6 44.7 51.0C45.0 54.4 44.6 61.2 44.5 66.0C44.4 70.8 44.1 76.3 44.0 80.0C43.9 83.7 43.8 86.7 43.7 88.0" fill="none" stroke="#808080" stroke-width="4" opacity="0.20" filter="url(#b2)"/>
<path d="M14.6 -8.0C14.7 -6.7 14.7 -3.4 14.9 0.0C15.1 3.4 15.1 8.4 15.9 12.5C16.7 16.6 17.8 20.8 19.6 24.4C21.4 28.0 23.9 31.2 26.7 34.0C29.5 36.8 33.5 39.1 36.2 41.0C38.9 42.9 41.6 43.7 43.0 45.4C44.4 47.1 44.5 47.6 44.7 51.0C45.0 54.4 44.6 61.2 44.5 66.0C44.4 70.8 44.1 76.3 44.0 80.0C43.9 83.7 43.8 86.7 43.7 88.0" fill="none" stroke="#808080" stroke-width="1.1" opacity="0.80" filter="url(#b05)"/>
<path d="M86.6 -8.0C86.5 -6.7 86.5 -3.4 86.3 0.0C86.1 3.4 86.2 8.4 85.5 12.5C84.8 16.6 83.6 20.8 81.8 24.4C80.0 27.9 77.6 31.2 74.8 33.8C72.0 36.4 68.1 38.4 65.2 40.2C62.3 42.0 59.0 43.0 57.3 44.8C55.6 46.6 55.5 47.5 55.2 51.0C54.9 54.5 55.2 61.2 55.3 66.0C55.4 70.8 55.7 76.3 55.8 80.0C55.9 83.7 56.0 86.7 56.1 88.0" fill="none" stroke="#808080" stroke-width="4" opacity="0.20" filter="url(#b2)"/>
<path d="M86.6 -8.0C86.5 -6.7 86.5 -3.4 86.3 0.0C86.1 3.4 86.2 8.4 85.5 12.5C84.8 16.6 83.6 20.8 81.8 24.4C80.0 27.9 77.6 31.2 74.8 33.8C72.0 36.4 68.1 38.4 65.2 40.2C62.3 42.0 59.0 43.0 57.3 44.8C55.6 46.6 55.5 47.5 55.2 51.0C54.9 54.5 55.2 61.2 55.3 66.0C55.4 70.8 55.7 76.3 55.8 80.0C55.9 83.7 56.0 86.7 56.1 88.0" fill="none" stroke="#808080" stroke-width="1.1" opacity="0.80" filter="url(#b05)"/>
<ellipse cx="50.2" cy="32.0" rx="11.0" ry="11.0" fill="#404040" filter="url(#b1)"/><ellipse cx="50.2" cy="32.0" rx="11.0" ry="11.0" fill="none" stroke="#bcbcbc" stroke-width="4.2" opacity="0.30" filter="url(#b2)"/><ellipse cx="50.2" cy="32.0" rx="11.0" ry="11.0" fill="none" stroke="#bcbcbc" stroke-width="1.2" filter="url(#b05)"/><path d="M44.5 26.5q5 -4 10 0q3 4 -1 8M43.5 35.5q3 5 8 5" fill="none" stroke="#9a9a9a" stroke-width="1.2" filter="url(#b08)"/>
</svg>
<svg x="339.0" y="195.6" width="96" height="81.2" viewBox="0 0 96 81.2" overflow="hidden">
<rect width="96" height="82" fill="#272727"/>
<clipPath id="tc4"><path d="M15.5 -8.0C15.6 -6.7 15.5 -3.3 15.8 0.0C16.1 3.3 16.2 8.3 17.2 12.0C18.2 15.7 19.7 19.1 21.8 22.4C23.9 25.7 27.1 29.3 30.0 32.0C32.9 34.7 36.7 36.6 39.2 38.5C41.8 40.4 44.2 41.7 45.3 43.6C46.4 45.5 46.0 46.8 46.0 50.0C46.0 53.2 46.2 58.0 45.2 63.0C44.2 68.0 41.2 75.8 39.8 80.0C38.4 84.2 37.1 86.7 36.6 88.0L66.3 88.0C65.8 86.7 64.6 84.2 63.2 80.0C61.8 75.8 59.0 68.0 58.0 63.0C57.0 58.0 56.9 53.2 56.9 50.0C56.9 46.8 56.5 45.5 57.8 43.6C59.1 41.7 61.8 40.6 64.5 38.8C67.2 37.0 71.0 35.4 74.0 32.8C77.0 30.2 80.1 26.9 82.2 23.4C84.3 19.9 85.8 15.9 86.8 12.0C87.8 8.1 87.8 3.3 88.0 0.0C88.2 -3.3 88.2 -6.7 88.3 -8.0Z"/></clipPath>
<path d="M15.5 -8.0C15.6 -6.7 15.5 -3.3 15.8 0.0C16.1 3.3 16.2 8.3 17.2 12.0C18.2 15.7 19.7 19.1 21.8 22.4C23.9 25.7 27.1 29.3 30.0 32.0C32.9 34.7 36.7 36.6 39.2 38.5C41.8 40.4 44.2 41.7 45.3 43.6C46.4 45.5 46.0 46.8 46.0 50.0C46.0 53.2 46.2 58.0 45.2 63.0C44.2 68.0 41.2 75.8 39.8 80.0C38.4 84.2 37.1 86.7 36.6 88.0L66.3 88.0C65.8 86.7 64.6 84.2 63.2 80.0C61.8 75.8 59.0 68.0 58.0 63.0C57.0 58.0 56.9 53.2 56.9 50.0C56.9 46.8 56.5 45.5 57.8 43.6C59.1 41.7 61.8 40.6 64.5 38.8C67.2 37.0 71.0 35.4 74.0 32.8C77.0 30.2 80.1 26.9 82.2 23.4C84.3 19.9 85.8 15.9 86.8 12.0C87.8 8.1 87.8 3.3 88.0 0.0C88.2 -3.3 88.2 -6.7 88.3 -8.0Z" fill="#343434" filter="url(#b2)"/>
<path d="M15.5 -8.0C15.6 -6.7 15.5 -3.3 15.8 0.0C16.1 3.3 16.2 8.3 17.2 12.0C18.2 15.7 19.7 19.1 21.8 22.4C23.9 25.7 27.1 29.3 30.0 32.0C32.9 34.7 36.7 36.6 39.2 38.5C41.8 40.4 44.2 41.7 45.3 43.6C46.4 45.5 46.0 46.8 46.0 50.0C46.0 53.2 46.2 58.0 45.2 63.0C44.2 68.0 41.2 75.8 39.8 80.0C38.4 84.2 37.1 86.7 36.6 88.0" fill="none" stroke="#707070" stroke-width="4" opacity="0.15" filter="url(#b2)"/>
<path d="M15.5 -8.0C15.6 -6.7 15.5 -3.3 15.8 0.0C16.1 3.3 16.2 8.3 17.2 12.0C18.2 15.7 19.7 19.1 21.8 22.4C23.9 25.7 27.1 29.3 30.0 32.0C32.9 34.7 36.7 36.6 39.2 38.5C41.8 40.4 44.2 41.7 45.3 43.6C46.4 45.5 46.0 46.8 46.0 50.0C46.0 53.2 46.2 58.0 45.2 63.0C44.2 68.0 41.2 75.8 39.8 80.0C38.4 84.2 37.1 86.7 36.6 88.0" fill="none" stroke="#707070" stroke-width="1.1" opacity="0.60" filter="url(#b05)"/>
<path d="M88.3 -8.0C88.2 -6.7 88.2 -3.3 88.0 0.0C87.8 3.3 87.8 8.1 86.8 12.0C85.8 15.9 84.3 19.9 82.2 23.4C80.1 26.9 77.0 30.2 74.0 32.8C71.0 35.4 67.2 37.0 64.5 38.8C61.8 40.6 59.1 41.7 57.8 43.6C56.5 45.5 56.9 46.8 56.9 50.0C56.9 53.2 57.0 58.0 58.0 63.0C59.0 68.0 61.8 75.8 63.2 80.0C64.6 84.2 65.8 86.7 66.3 88.0" fill="none" stroke="#707070" stroke-width="4" opacity="0.15" filter="url(#b2)"/>
<path d="M88.3 -8.0C88.2 -6.7 88.2 -3.3 88.0 0.0C87.8 3.3 87.8 8.1 86.8 12.0C85.8 15.9 84.3 19.9 82.2 23.4C80.1 26.9 77.0 30.2 74.0 32.8C71.0 35.4 67.2 37.0 64.5 38.8C61.8 40.6 59.1 41.7 57.8 43.6C56.5 45.5 56.9 46.8 56.9 50.0C56.9 53.2 57.0 58.0 58.0 63.0C59.0 68.0 61.8 75.8 63.2 80.0C64.6 84.2 65.8 86.7 66.3 88.0" fill="none" stroke="#707070" stroke-width="1.1" opacity="0.60" filter="url(#b05)"/>
<ellipse cx="51.6" cy="28.6" rx="11.5" ry="11.5" fill="#444444" filter="url(#b1)"/><ellipse cx="51.6" cy="28.6" rx="11.5" ry="11.5" fill="none" stroke="#a4a4a4" stroke-width="4.2" opacity="0.30" filter="url(#b2)"/><ellipse cx="51.6" cy="28.6" rx="11.5" ry="11.5" fill="none" stroke="#a4a4a4" stroke-width="1.2" filter="url(#b05)"/><path d="M46.4 24q5 -4 9 0q3 4 -1 8M45.4 32q3 5 8 5" fill="none" stroke="#8a8a8a" stroke-width="1.2" filter="url(#b08)"/>
</svg>
<svg x="449.0" y="195.6" width="96" height="81.2" viewBox="0 0 96 81.2" overflow="hidden">
<rect width="96" height="82" fill="#212121"/>
<clipPath id="tc5"><path d="M13.1 -8.0C13.2 -6.7 13.2 -4.0 13.4 0.0C13.6 4.0 13.7 11.8 14.1 16.1C14.5 20.4 14.8 22.9 15.9 26.0C17.0 29.1 18.8 32.4 20.9 34.9C23.0 37.4 26.1 39.1 28.7 40.8C31.3 42.5 34.4 43.6 36.4 44.9C38.4 46.2 40.1 46.7 41.0 48.5C41.9 50.3 41.7 52.4 41.8 55.6C41.9 58.9 41.8 63.9 41.8 68.0C41.8 72.1 41.8 76.7 41.8 80.0C41.8 83.3 41.8 86.7 41.8 88.0L55.3 88.0C55.3 86.7 55.3 83.3 55.2 80.0C55.1 76.7 55.1 72.1 55.0 68.0C54.9 63.9 54.6 58.9 54.8 55.6C55.0 52.3 55.0 49.9 56.2 48.0C57.4 46.1 59.7 45.5 62.0 44.1C64.3 42.7 67.3 41.5 69.8 39.8C72.2 38.1 74.8 36.2 76.7 33.9C78.6 31.6 80.1 29.0 81.2 26.0C82.3 23.0 82.8 20.4 83.2 16.1C83.6 11.8 83.7 4.0 83.8 0.0C83.9 -4.0 84.0 -6.7 84.1 -8.0Z"/></clipPath>
<path d="M13.1 -8.0C13.2 -6.7 13.2 -4.0 13.4 0.0C13.6 4.0 13.7 11.8 14.1 16.1C14.5 20.4 14.8 22.9 15.9 26.0C17.0 29.1 18.8 32.4 20.9 34.9C23.0 37.4 26.1 39.1 28.7 40.8C31.3 42.5 34.4 43.6 36.4 44.9C38.4 46.2 40.1 46.7 41.0 48.5C41.9 50.3 41.7 52.4 41.8 55.6C41.9 58.9 41.8 63.9 41.8 68.0C41.8 72.1 41.8 76.7 41.8 80.0C41.8 83.3 41.8 86.7 41.8 88.0L55.3 88.0C55.3 86.7 55.3 83.3 55.2 80.0C55.1 76.7 55.1 72.1 55.0 68.0C54.9 63.9 54.6 58.9 54.8 55.6C55.0 52.3 55.0 49.9 56.2 48.0C57.4 46.1 59.7 45.5 62.0 44.1C64.3 42.7 67.3 41.5 69.8 39.8C72.2 38.1 74.8 36.2 76.7 33.9C78.6 31.6 80.1 29.0 81.2 26.0C82.3 23.0 82.8 20.4 83.2 16.1C83.6 11.8 83.7 4.0 83.8 0.0C83.9 -4.0 84.0 -6.7 84.1 -8.0Z" fill="#474747" filter="url(#b2)"/>
<g clip-path="url(#tc5)"><rect x="40" y="46" width="17" height="40" fill="#545454" filter="url(#b1)"/></g>
<path d="M13.1 -8.0C13.2 -6.7 13.2 -4.0 13.4 0.0C13.6 4.0 13.7 11.8 14.1 16.1C14.5 20.4 14.8 22.9 15.9 26.0C17.0 29.1 18.8 32.4 20.9 34.9C23.0 37.4 26.1 39.1 28.7 40.8C31.3 42.5 34.4 43.6 36.4 44.9C38.4 46.2 40.1 46.7 41.0 48.5C41.9 50.3 41.7 52.4 41.8 55.6C41.9 58.9 41.8 63.9 41.8 68.0C41.8 72.1 41.8 76.7 41.8 80.0C41.8 83.3 41.8 86.7 41.8 88.0" fill="none" stroke="#888888" stroke-width="4" opacity="0.17" filter="url(#b2)"/>
<path d="M13.1 -8.0C13.2 -6.7 13.2 -4.0 13.4 0.0C13.6 4.0 13.7 11.8 14.1 16.1C14.5 20.4 14.8 22.9 15.9 26.0C17.0 29.1 18.8 32.4 20.9 34.9C23.0 37.4 26.1 39.1 28.7 40.8C31.3 42.5 34.4 43.6 36.4 44.9C38.4 46.2 40.1 46.7 41.0 48.5C41.9 50.3 41.7 52.4 41.8 55.6C41.9 58.9 41.8 63.9 41.8 68.0C41.8 72.1 41.8 76.7 41.8 80.0C41.8 83.3 41.8 86.7 41.8 88.0" fill="none" stroke="#888888" stroke-width="1.1" opacity="0.70" filter="url(#b05)"/>
<path d="M84.1 -8.0C84.0 -6.7 83.9 -4.0 83.8 0.0C83.7 4.0 83.6 11.8 83.2 16.1C82.8 20.4 82.3 23.0 81.2 26.0C80.1 29.0 78.6 31.6 76.7 33.9C74.8 36.2 72.2 38.1 69.8 39.8C67.3 41.5 64.3 42.7 62.0 44.1C59.7 45.5 57.4 46.1 56.2 48.0C55.0 49.9 55.0 52.3 54.8 55.6C54.6 58.9 54.9 63.9 55.0 68.0C55.1 72.1 55.1 76.7 55.2 80.0C55.3 83.3 55.3 86.7 55.3 88.0" fill="none" stroke="#888888" stroke-width="4" opacity="0.17" filter="url(#b2)"/>
<path d="M84.1 -8.0C84.0 -6.7 83.9 -4.0 83.8 0.0C83.7 4.0 83.6 11.8 83.2 16.1C82.8 20.4 82.3 23.0 81.2 26.0C80.1 29.0 78.6 31.6 76.7 33.9C74.8 36.2 72.2 38.1 69.8 39.8C67.3 41.5 64.3 42.7 62.0 44.1C59.7 45.5 57.4 46.1 56.2 48.0C55.0 49.9 55.0 52.3 54.8 55.6C54.6 58.9 54.9 63.9 55.0 68.0C55.1 72.1 55.1 76.7 55.2 80.0C55.3 83.3 55.3 86.7 55.3 88.0" fill="none" stroke="#888888" stroke-width="1.1" opacity="0.70" filter="url(#b05)"/>
<ellipse cx="48.3" cy="41.0" rx="5.2" ry="5.2" fill="#343434" filter="url(#b1)"/><ellipse cx="48.3" cy="41.0" rx="5.2" ry="5.2" fill="none" stroke="#808080" stroke-width="4.2" opacity="0.30" filter="url(#b2)"/><ellipse cx="48.3" cy="41.0" rx="5.2" ry="5.2" fill="none" stroke="#808080" stroke-width="1.2" filter="url(#b08)"/><path d="M41.8 42a6.6 6.6 0 0 1 13 0" fill="none" stroke="#c0c0c0" stroke-width="1.8" filter="url(#b08)"/>
</svg>
<rect x="504.8" y="247" width="35" height="3.7" fill="#fff"/>
<text transform="translate(502.8,267.8) scale(1.08,1)" font-size="14" fill="#fff" stroke="#fff" stroke-width="0.2">30μm</text>
<text class="sans" transform="translate(9.0,220.2) scale(0.78,1)" font-size="30.5" fill="#fff" stroke="#fff" stroke-width="0.8">C</text>
<path d="M9 298.2H507.8V289.8L543.5 306.2L507.8 322.4V315.7H9Z" fill="#d0d0d0"/>
<text x="13.4" y="312.3" font-size="17.2" text-anchor="middle" fill="#000">0</text>
<text x="100.4" y="312.3" font-size="17.2" text-anchor="middle" fill="#000">15</text>
<text x="188.3" y="312.3" font-size="17.2" text-anchor="middle" fill="#000">30</text>
<text x="273.5" y="312.3" font-size="17.2" text-anchor="middle" fill="#000">45</text>
<text x="360.3" y="312.3" font-size="17.2" text-anchor="middle" fill="#000">60</text>
<text x="451.8" y="312.8" font-size="17.8" text-anchor="middle" fill="#111">Time (hours)</text>
<path d="M57.3 276.5V284.8H13.2V294" fill="none" stroke="#000" stroke-width="2"/>
<path d="M13.2 298.3l-3.7 -7h7.4z" fill="#000"/>
<path d="M55.5 334V326.5H13.2V317" fill="none" stroke="#000" stroke-width="2"/>
<path d="M13.2 313l-3.7 7h7.4z" fill="#000"/>
<path d="M165.8 276.5V284.8H100.7V294" fill="none" stroke="#000" stroke-width="2"/>
<path d="M100.7 298.3l-3.7 -7h7.4z" fill="#000"/>
<path d="M165.0 334V326.5H100.7V317" fill="none" stroke="#000" stroke-width="2"/>
<path d="M100.7 313l-3.7 7h7.4z" fill="#000"/>
<path d="M277.2 276.5V279.9H188.1V294" fill="none" stroke="#000" stroke-width="2"/>
<path d="M188.1 298.3l-3.7 -7h7.4z" fill="#000"/>
<path d="M276.2 334V330.4H188.1V317" fill="none" stroke="#000" stroke-width="2"/>
<path d="M188.1 313l-3.7 7h7.4z" fill="#000"/>
<path d="M386.5 276.5V284.8H274.7V294" fill="none" stroke="#000" stroke-width="2"/>
<path d="M274.7 298.3l-3.7 -7h7.4z" fill="#000"/>
<path d="M386.5 334V326.0H274.7V317" fill="none" stroke="#000" stroke-width="2"/>
<path d="M274.7 313l-3.7 7h7.4z" fill="#000"/>
<path d="M496.0 276.5V287.7H362.1V294" fill="none" stroke="#000" stroke-width="2"/>
<path d="M362.1 298.3l-3.7 -7h7.4z" fill="#000"/>
<path d="M495.0 334V323.5H362.1V317" fill="none" stroke="#000" stroke-width="2"/>
<path d="M362.1 313l-3.7 7h7.4z" fill="#000"/>
<svg x="7.5" y="333.7" width="96.3" height="107.2" viewBox="0 0 96.3 107.2" overflow="hidden">
<rect width="97" height="108" fill="#1b1b1b"/>
<path d="M16.5 -5V62.0C16.5 80.5 30.3 95.0 47.9 95.0H54.3C72.3 95.0 86.5 80.5 86.5 62.0V-5Z" fill="#262626" filter="url(#b2)"/>
<path d="M16.5 -5V62.0C16.5 80.5 30.3 95.0 45.9 95.0Q47.9 95.0 47.9 98.0V112M86.5 -5V62.0C86.5 80.5 72.3 95.0 56.3 95.0Q54.3 95.0 54.3 98.0V112" fill="none" stroke="#5a5a5a" stroke-width="4" opacity="0.3" filter="url(#b2)"/>
<path d="M16.5 -5V62.0C16.5 80.5 30.3 95.0 45.9 95.0Q47.9 95.0 47.9 98.0V112M86.5 -5V62.0C86.5 80.5 72.3 95.0 56.3 95.0Q54.3 95.0 54.3 98.0V112" fill="none" stroke="#5a5a5a" stroke-width="1.3" filter="url(#b08)"/>
<ellipse cx="50" cy="57" rx="32" ry="28" fill="#707070" opacity="0.62" filter="url(#b4)"/>
<ellipse cx="50" cy="50" rx="24" ry="6" fill="#777" opacity="0.45" filter="url(#b2)"/>
<ellipse cx="60.6" cy="20.5" rx="3.6" ry="3.6" fill="none" stroke="#808080" stroke-width="3.9" opacity="0.30" filter="url(#b2)"/><ellipse cx="60.6" cy="20.5" rx="3.6" ry="3.6" fill="none" stroke="#808080" stroke-width="1.1" filter="url(#b08)"/>
<ellipse cx="30.0" cy="37.5" rx="9.0" ry="9.0" fill="#1e1e1e" filter="url(#b1)"/><ellipse cx="30.0" cy="37.5" rx="9.0" ry="9.0" fill="none" stroke="#7c7c7c" stroke-width="7.7" opacity="0.30" filter="url(#b2)"/><ellipse cx="30.0" cy="37.5" rx="9.0" ry="9.0" fill="none" stroke="#7c7c7c" stroke-width="2.2" filter="url(#b1)"/>
<ellipse cx="67.0" cy="38.4" rx="10.0" ry="10.0" fill="#1d1d1d" filter="url(#b1)"/><ellipse cx="67.0" cy="38.4" rx="10.0" ry="10.0" fill="none" stroke="#848484" stroke-width="8.0" opacity="0.30" filter="url(#b2)"/><ellipse cx="67.0" cy="38.4" rx="10.0" ry="10.0" fill="none" stroke="#848484" stroke-width="2.3" filter="url(#b1)"/>
<ellipse cx="46.6" cy="38.4" rx="5.5" ry="5.5" fill="#222" filter="url(#b1)"/><ellipse cx="46.6" cy="38.4" rx="5.5" ry="5.5" fill="none" stroke="#707070" stroke-width="6.3" opacity="0.30" filter="url(#b2)"/><ellipse cx="46.6" cy="38.4" rx="5.5" ry="5.5" fill="none" stroke="#707070" stroke-width="1.8" filter="url(#b1)"/>
<ellipse cx="40.2" cy="51.0" rx="3.5" ry="3.5" fill="none" stroke="#9a9a9a" stroke-width="5.6" opacity="0.30" filter="url(#b2)"/><ellipse cx="40.2" cy="51.0" rx="3.5" ry="3.5" fill="none" stroke="#9a9a9a" stroke-width="1.6" filter="url(#b08)"/>
<ellipse cx="56.8" cy="50.0" rx="3.5" ry="3.5" fill="none" stroke="#9a9a9a" stroke-width="5.6" opacity="0.30" filter="url(#b2)"/><ellipse cx="56.8" cy="50.0" rx="3.5" ry="3.5" fill="none" stroke="#9a9a9a" stroke-width="1.6" filter="url(#b08)"/>
<ellipse cx="68.3" cy="70.5" rx="13.0" ry="13.0" fill="#1f1f1f" filter="url(#b1)"/><ellipse cx="68.3" cy="70.5" rx="13.0" ry="13.0" fill="none" stroke="#7a7a7a" stroke-width="7.7" opacity="0.30" filter="url(#b2)"/><ellipse cx="68.3" cy="70.5" rx="13.0" ry="13.0" fill="none" stroke="#7a7a7a" stroke-width="2.2" filter="url(#b1)"/>
<ellipse cx="39.4" cy="72.8" rx="12.6" ry="12.6" fill="#232323" filter="url(#b1)"/><ellipse cx="39.4" cy="72.8" rx="12.6" ry="12.6" fill="none" stroke="#a4a4a4" stroke-width="8.4" opacity="0.40" filter="url(#b2)"/><ellipse cx="39.4" cy="72.8" rx="12.6" ry="12.6" fill="none" stroke="#a4a4a4" stroke-width="2.4" filter="url(#b1)"/>
<circle cx="39.6" cy="73.4" r="16.2" fill="none" stroke="#e60012" stroke-width="2.1"/>
</svg>
<svg x="117.1" y="333.7" width="96.3" height="107.2" viewBox="0 0 96.3 107.2" overflow="hidden">
<rect width="97" height="108" fill="#1d1d1d"/>
<path d="M16.9 -5V66.0C16.9 83.4 31.3 97.0 49.6 97.0H56.0C73.6 97.0 87.4 83.4 87.4 66.0V-5Z" fill="#282828" filter="url(#b2)"/>
<path d="M16.9 -5V66.0C16.9 83.4 31.3 97.0 47.6 97.0Q49.6 97.0 49.6 100.0V112M87.4 -5V66.0C87.4 83.4 73.6 97.0 58.0 97.0Q56.0 97.0 56.0 100.0V112" fill="none" stroke="#5a5a5a" stroke-width="4" opacity="0.3" filter="url(#b2)"/>
<path d="M16.9 -5V66.0C16.9 83.4 31.3 97.0 47.6 97.0Q49.6 97.0 49.6 100.0V112M87.4 -5V66.0C87.4 83.4 73.6 97.0 58.0 97.0Q56.0 97.0 56.0 100.0V112" fill="none" stroke="#5a5a5a" stroke-width="1.3" filter="url(#b08)"/>
<ellipse cx="50" cy="58" rx="30" ry="34" fill="#707070" opacity="0.55" filter="url(#b4)"/>
<ellipse cx="45.7" cy="28.1" rx="11.2" ry="11.2" fill="#222" filter="url(#b1)"/><ellipse cx="45.7" cy="28.1" rx="11.2" ry="11.2" fill="none" stroke="#969696" stroke-width="8.4" opacity="0.40" filter="url(#b2)"/><ellipse cx="45.7" cy="28.1" rx="11.2" ry="11.2" fill="none" stroke="#969696" stroke-width="2.4" filter="url(#b1)"/>
<ellipse cx="61.0" cy="46.0" rx="8.3" ry="8.3" fill="#262626" filter="url(#b1)"/><ellipse cx="61.0" cy="46.0" rx="8.3" ry="8.3" fill="none" stroke="#828282" stroke-width="7.0" opacity="0.30" filter="url(#b2)"/><ellipse cx="61.0" cy="46.0" rx="8.3" ry="8.3" fill="none" stroke="#828282" stroke-width="2.0" filter="url(#b1)"/>
<ellipse cx="31.7" cy="46.0" rx="5.5" ry="5.5" fill="#222" filter="url(#b1)"/><ellipse cx="31.7" cy="46.0" rx="5.5" ry="5.5" fill="none" stroke="#6a6a6a" stroke-width="6.3" opacity="0.30" filter="url(#b2)"/><ellipse cx="31.7" cy="46.0" rx="5.5" ry="5.5" fill="none" stroke="#6a6a6a" stroke-width="1.8" filter="url(#b1)"/>
<ellipse cx="70.0" cy="72.8" rx="11.8" ry="13.2" fill="#252525" filter="url(#b1)"/><ellipse cx="70.0" cy="72.8" rx="11.8" ry="13.2" fill="none" stroke="#7c7c7c" stroke-width="7.0" opacity="0.30" filter="url(#b2)"/><ellipse cx="70.0" cy="72.8" rx="11.8" ry="13.2" fill="none" stroke="#7c7c7c" stroke-width="2.0" filter="url(#b1)"/>
<ellipse cx="34.2" cy="74.1" rx="16.8" ry="16.8" fill="#2a2a2a" filter="url(#b1)"/><ellipse cx="34.2" cy="74.1" rx="16.8" ry="16.8" fill="none" stroke="#a0a0a0" stroke-width="8.4" opacity="0.40" filter="url(#b2)"/><ellipse cx="34.2" cy="74.1" rx="16.8" ry="16.8" fill="none" stroke="#a0a0a0" stroke-width="2.4" filter="url(#b1)"/><ellipse cx="34.2" cy="74.1" rx="9.2" ry="9.2" fill="#1e1e1e" filter="url(#b2)"/>
<circle cx="34.2" cy="74.3" r="20.5" fill="none" stroke="#e60012" stroke-width="2.1"/>
</svg>
<svg x="227.1" y="333.7" width="96.3" height="107.2" viewBox="0 0 96.3 107.2" overflow="hidden">
<rect width="97" height="108" fill="#1f1f1f"/>
<path d="M15.1 -5V64.0C15.1 82.5 29.7 97.0 48.3 97.0H55.2C73.2 97.0 87.4 82.5 87.4 64.0V-5Z" fill="#2a2a2a" filter="url(#b2)"/>
<path d="M15.1 -5V64.0C15.1 82.5 29.7 97.0 46.3 97.0Q48.3 97.0 48.3 100.0V112M87.4 -5V64.0C87.4 82.5 73.2 97.0 57.2 97.0Q55.2 97.0 55.2 100.0V112" fill="none" stroke="#5a5a5a" stroke-width="4" opacity="0.3" filter="url(#b2)"/>
<path d="M15.1 -5V64.0C15.1 82.5 29.7 97.0 46.3 97.0Q48.3 97.0 48.3 100.0V112M87.4 -5V64.0C87.4 82.5 73.2 97.0 57.2 97.0Q55.2 97.0 55.2 100.0V112" fill="none" stroke="#5a5a5a" stroke-width="1.3" filter="url(#b08)"/>
<ellipse cx="50" cy="52" rx="32" ry="38" fill="#707070" opacity="0.55" filter="url(#b4)"/>
<ellipse cx="43.2" cy="20.5" rx="8.0" ry="8.0" fill="#262626" filter="url(#b1)"/><ellipse cx="43.2" cy="20.5" rx="8.0" ry="8.0" fill="none" stroke="#828282" stroke-width="7.0" opacity="0.30" filter="url(#b2)"/><ellipse cx="43.2" cy="20.5" rx="8.0" ry="8.0" fill="none" stroke="#828282" stroke-width="2.0" filter="url(#b1)"/>
<ellipse cx="34.2" cy="34.5" rx="8.5" ry="8.5" fill="#282828" filter="url(#b1)"/><ellipse cx="34.2" cy="34.5" rx="8.5" ry="8.5" fill="none" stroke="#828282" stroke-width="7.0" opacity="0.30" filter="url(#b2)"/><ellipse cx="34.2" cy="34.5" rx="8.5" ry="8.5" fill="none" stroke="#828282" stroke-width="2.0" filter="url(#b1)"/>
<ellipse cx="64.4" cy="33.2" rx="12.3" ry="12.3" fill="#262626" filter="url(#b1)"/><ellipse cx="64.4" cy="33.2" rx="12.3" ry="12.3" fill="none" stroke="#909090" stroke-width="7.7" opacity="0.30" filter="url(#b2)"/><ellipse cx="64.4" cy="33.2" rx="12.3" ry="12.3" fill="none" stroke="#909090" stroke-width="2.2" filter="url(#b1)"/>
<ellipse cx="81.5" cy="57.5" rx="5.0" ry="9.0" fill="none" stroke="#7a7a7a" stroke-width="6.0" opacity="0.30" filter="url(#b2)"/><ellipse cx="81.5" cy="57.5" rx="5.0" ry="9.0" fill="none" stroke="#7a7a7a" stroke-width="1.7" filter="url(#b1)"/>
<ellipse cx="70.0" cy="70.3" rx="12.0" ry="16.5" fill="#282828" filter="url(#b1)" transform="rotate(15 70.0 70.3)"/><ellipse cx="70.0" cy="70.3" rx="12.0" ry="16.5" fill="none" stroke="#7c7c7c" stroke-width="7.0" opacity="0.30" filter="url(#b2)" transform="rotate(15 70.0 70.3)"/><ellipse cx="70.0" cy="70.3" rx="12.0" ry="16.5" fill="none" stroke="#7c7c7c" stroke-width="2.0" filter="url(#b1)" transform="rotate(15 70.0 70.3)"/>
<ellipse cx="32.9" cy="65.2" rx="17.3" ry="19.3" fill="#2c2c2c" filter="url(#b1)"/><ellipse cx="32.9" cy="65.2" rx="17.3" ry="19.3" fill="none" stroke="#9a9a9a" stroke-width="8.4" opacity="0.40" filter="url(#b2)"/><ellipse cx="32.9" cy="65.2" rx="17.3" ry="19.3" fill="none" stroke="#9a9a9a" stroke-width="2.4" filter="url(#b1)"/><ellipse cx="32.9" cy="65.2" rx="9.5" ry="10.6" fill="#1f1f1f" filter="url(#b2)"/>
<circle cx="32.5" cy="65.9" r="24.0" fill="none" stroke="#e60012" stroke-width="2.1"/>
</svg>
<svg x="337.1" y="333.7" width="96.3" height="107.2" viewBox="0 0 96.3 107.2" overflow="hidden">
<rect width="97" height="108" fill="#1e1e1e"/>
<path d="M14.3 -5V60.0C14.3 79.6 28.7 95.0 47.0 95.0H56.0C73.6 95.0 87.4 79.6 87.4 60.0V-5Z" fill="#2d2d2d" filter="url(#b2)"/>
<path d="M14.3 -5V60.0C14.3 79.6 28.7 95.0 45.0 95.0Q47.0 95.0 47.0 98.0V112M87.4 -5V60.0C87.4 79.6 73.6 95.0 58.0 95.0Q56.0 95.0 56.0 98.0V112" fill="none" stroke="#5a5a5a" stroke-width="4" opacity="0.3" filter="url(#b2)"/>
<path d="M14.3 -5V60.0C14.3 79.6 28.7 95.0 45.0 95.0Q47.0 95.0 47.0 98.0V112M87.4 -5V60.0C87.4 79.6 73.6 95.0 58.0 95.0Q56.0 95.0 56.0 98.0V112" fill="none" stroke="#5a5a5a" stroke-width="1.3" filter="url(#b08)"/>
<ellipse cx="50" cy="46" rx="33" ry="44" fill="#6a6a6a" opacity="0.55" filter="url(#b4)"/>
<ellipse cx="29.1" cy="10.3" rx="7.5" ry="7.5" fill="#343434" filter="url(#b1)"/><ellipse cx="29.1" cy="10.3" rx="7.5" ry="7.5" fill="none" stroke="#909090" stroke-width="4.2" opacity="0.30" filter="url(#b2)"/><ellipse cx="29.1" cy="10.3" rx="7.5" ry="7.5" fill="none" stroke="#909090" stroke-width="1.2" filter="url(#b05)"/>
<ellipse cx="64.9" cy="19.2" rx="13.5" ry="15.0" fill="#424242" filter="url(#b1)"/><ellipse cx="64.9" cy="19.2" rx="13.5" ry="15.0" fill="none" stroke="#989898" stroke-width="5.2" opacity="0.30" filter="url(#b2)"/><ellipse cx="64.9" cy="19.2" rx="13.5" ry="15.0" fill="none" stroke="#989898" stroke-width="1.5" filter="url(#b08)"/><ellipse cx="64.9" cy="19.2" rx="7.4" ry="8.2" fill="#323232" filter="url(#b2)"/>
<ellipse cx="67.4" cy="60.1" rx="17.0" ry="16.0" fill="#444444" filter="url(#b1)"/><ellipse cx="67.4" cy="60.1" rx="17.0" ry="16.0" fill="none" stroke="#a0a0a0" stroke-width="5.2" opacity="0.30" filter="url(#b2)"/><ellipse cx="67.4" cy="60.1" rx="17.0" ry="16.0" fill="none" stroke="#a0a0a0" stroke-width="1.5" filter="url(#b08)"/><ellipse cx="67.4" cy="60.1" rx="9.4" ry="8.8" fill="#303030" filter="url(#b2)"/>
<ellipse cx="50.8" cy="84.3" rx="9.5" ry="9.5" fill="#303030" filter="url(#b1)"/><ellipse cx="50.8" cy="84.3" rx="9.5" ry="9.5" fill="none" stroke="#909090" stroke-width="4.2" opacity="0.30" filter="url(#b2)"/><ellipse cx="50.8" cy="84.3" rx="9.5" ry="9.5" fill="none" stroke="#909090" stroke-width="1.2" filter="url(#b05)"/>
<ellipse cx="35.5" cy="42.2" rx="19.5" ry="21.0" fill="#484848" filter="url(#b1)"/><ellipse cx="35.5" cy="42.2" rx="19.5" ry="21.0" fill="none" stroke="#a8a8a8" stroke-width="5.2" opacity="0.35" filter="url(#b2)"/><ellipse cx="35.5" cy="42.2" rx="19.5" ry="21.0" fill="none" stroke="#a8a8a8" stroke-width="1.5" filter="url(#b08)"/><ellipse cx="35.5" cy="42.2" rx="10.7" ry="11.6" fill="#2a2a2a" filter="url(#b2)"/>
<circle cx="36.1" cy="42.8" r="25.7" fill="none" stroke="#e60012" stroke-width="2.1"/>
</svg>
<svg x="446.9" y="333.7" width="96.3" height="107.2" viewBox="0 0 96.3 107.2" overflow="hidden">
<rect width="97" height="108" fill="#1f1f1f"/>
<path d="M14.5 -5V60.0C14.5 79.6 28.8 95.0 47.0 95.0H56.0C72.5 95.0 85.5 79.6 85.5 60.0V-5Z" fill="#2d2d2d" filter="url(#b2)"/>
<path d="M14.5 -5V60.0C14.5 79.6 28.8 95.0 45.0 95.0Q47.0 95.0 47.0 98.0V112M85.5 -5V60.0C85.5 79.6 72.5 95.0 58.0 95.0Q56.0 95.0 56.0 98.0V112" fill="none" stroke="#5a5a5a" stroke-width="4" opacity="0.3" filter="url(#b2)"/>
<path d="M14.5 -5V60.0C14.5 79.6 28.8 95.0 45.0 95.0Q47.0 95.0 47.0 98.0V112M85.5 -5V60.0C85.5 79.6 72.5 95.0 58.0 95.0Q56.0 95.0 56.0 98.0V112" fill="none" stroke="#5a5a5a" stroke-width="1.3" filter="url(#b08)"/>
<ellipse cx="50" cy="46" rx="33" ry="44" fill="#6a6a6a" opacity="0.55" filter="url(#b4)"/>
<ellipse cx="45.9" cy="7.7" rx="10.0" ry="10.0" fill="#323232" filter="url(#b1)"/><ellipse cx="45.9" cy="7.7" rx="10.0" ry="10.0" fill="none" stroke="#909090" stroke-width="4.2" opacity="0.30" filter="url(#b2)"/><ellipse cx="45.9" cy="7.7" rx="10.0" ry="10.0" fill="none" stroke="#909090" stroke-width="1.2" filter="url(#b05)"/>
<ellipse cx="74.0" cy="35.8" rx="11.0" ry="15.0" fill="#404040" filter="url(#b1)"/><ellipse cx="74.0" cy="35.8" rx="11.0" ry="15.0" fill="none" stroke="#949494" stroke-width="5.2" opacity="0.30" filter="url(#b2)"/><ellipse cx="74.0" cy="35.8" rx="11.0" ry="15.0" fill="none" stroke="#949494" stroke-width="1.5" filter="url(#b08)"/><ellipse cx="74.0" cy="35.8" rx="6.1" ry="8.2" fill="#303030" filter="url(#b2)"/>
<ellipse cx="63.8" cy="69.0" rx="15.0" ry="16.0" fill="#404040" filter="url(#b1)"/><ellipse cx="63.8" cy="69.0" rx="15.0" ry="16.0" fill="none" stroke="#9c9c9c" stroke-width="5.2" opacity="0.30" filter="url(#b2)"/><ellipse cx="63.8" cy="69.0" rx="15.0" ry="16.0" fill="none" stroke="#9c9c9c" stroke-width="1.5" filter="url(#b08)"/><ellipse cx="63.8" cy="69.0" rx="8.2" ry="8.8" fill="#2c2c2c" filter="url(#b2)"/>
<ellipse cx="29.3" cy="78.0" rx="7.5" ry="7.5" fill="#323232" filter="url(#b1)"/><ellipse cx="29.3" cy="78.0" rx="7.5" ry="7.5" fill="none" stroke="#949494" stroke-width="4.2" opacity="0.30" filter="url(#b2)"/><ellipse cx="29.3" cy="78.0" rx="7.5" ry="7.5" fill="none" stroke="#949494" stroke-width="1.2" filter="url(#b05)"/>
<ellipse cx="37.0" cy="42.2" rx="23.5" ry="23.5" fill="#4a4a4a" filter="url(#b1)"/><ellipse cx="37.0" cy="42.2" rx="23.5" ry="23.5" fill="none" stroke="#a4a4a4" stroke-width="5.2" opacity="0.35" filter="url(#b2)"/><ellipse cx="37.0" cy="42.2" rx="23.5" ry="23.5" fill="none" stroke="#a4a4a4" stroke-width="1.5" filter="url(#b08)"/><ellipse cx="37.0" cy="42.2" rx="12.9" ry="12.9" fill="#282828" filter="url(#b2)"/>
<circle cx="37.0" cy="42.8" r="27.5" fill="none" stroke="#e60012" stroke-width="2.1"/>
</svg>
<rect x="501.5" y="412.5" width="34.2" height="4.6" fill="#fff"/>
<text transform="translate(499.6,433.5) scale(1.05,1)" font-size="14.5" fill="#fff" stroke="#fff" stroke-width="0.2">30μm</text>
</svg>
</body></html>
